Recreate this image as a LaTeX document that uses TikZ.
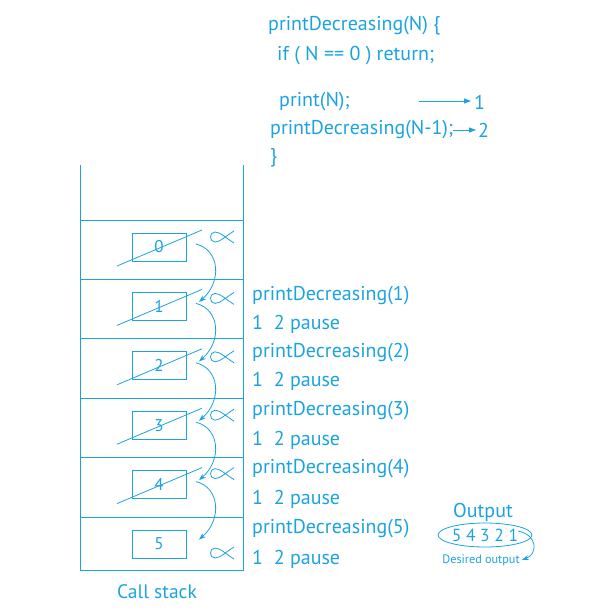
\documentclass[tikz,border=0pt]{standalone}
\usepackage{fontspec}
\setmainfont{PT Sans}
\usetikzlibrary{arrows.meta,shapes.geometric,calc,positioning}

\definecolor{callblue}{RGB}{27,163,224}

\tikzset{
  cyanline/.style={draw=callblue,line width=0.8pt},
  stackbox/.style={cyanline,minimum width=54pt,minimum height=28pt,inner sep=0pt,text=callblue,font=\fontsize{17}{17}\selectfont},
  lbl/.style={text=callblue,anchor=west,inner sep=0pt,font=\fontsize{20}{20}\selectfont},
  codeline/.style={text=callblue,anchor=west,inner sep=0pt,font=\fontsize{20}{20}\selectfont},
  curvearrow/.style={cyanline,-{Stealth[length=7pt,width=5pt]}},
  codearrow/.style={cyanline,-{Triangle[length=7pt,width=5pt]}},
  fish/.pic={\draw[cyanline] (12,-6) .. controls (4,-1) and (-2,5) .. (-7,5)
      .. controls (-13,5) and (-13,-5) .. (-7,-5) .. controls (-2,-5) and (4,1) .. (12,6);}
}

\begin{document}
\begin{tikzpicture}[x=1pt,y=-1pt]
\useasboundingbox (0,0) rectangle (596,613);

% Code of the function
\node[codeline] (code1) at (268,26) {printDecreasing(N) \{};
\node[codeline] (code2) at (277,56) {if ( N == 0 ) return;};
\node[codeline] (code3) at (279,102) {print(N);};
\node[codeline] (code4) at (270,130) {printDecreasing(N-1);};
\node[codeline] (code5) at (270,158) {\}};
\node[codeline] (one) at (474,102) {1};
\node[codeline] (two) at (478,130) {2};
\coordinate (p1) at (419,101);
\draw[codearrow] (p1) -- ($(one.west)+(-3,-1)$);
\draw[codearrow] (code4.east) -- ($(two.west)+(-2,0)$);

% Call stack walls and frames
\draw[cyanline] (80,165) -- (80,570) -- (243,570) -- (243,165);
\foreach \i in {0,...,5} {
  \pgfmathsetmacro{\t}{220+59.4*\i}
  \draw[cyanline] (80,\t) -- (243,\t);
  \node[stackbox] (b\i) at (159,\t+27) {\i};
}

% Crossed out frames
\foreach \i in {0,...,4} {
  \pgfmathsetmacro{\t}{220+59.4*\i}
  \draw[cyanline] (117,\t+46) -- (202,\t+10);
}

% Fish marks
\foreach \i/\dy in {0/17,1/19,2/18,3/17,4/16,5/36} {
  \pgfmathsetmacro{\t}{220+59.4*\i}
  \pic at (222,\t+\dy) {fish};
}

% Returns from one frame to the next
\foreach \i in {0,...,4} {
  \pgfmathsetmacro{\t}{220+59.4*\i}
  \coordinate (s\i) at (196,\t+24);
  \coordinate (e\i) at (199,\t+82);
  \draw[curvearrow] (s\i) .. controls +(24,6) and +(23,-20) .. (e\i);
}

% Calls and their output
\foreach \i/\y/\p in {1/296/324,2/353/381,3/411/440,4/469/499,5/529/559} {
  \node[lbl] (call\i) at (252,\y) {printDecreasing(\i)};
  \node[lbl] (pause\i) at (252,\p) {1\ \ 2 pause};
}

\node[text=callblue,font=\fontsize{19.5}{19.5}\selectfont] (stack) at (157,592) {Call stack};

% Output
\node[text=callblue,font=\fontsize{20}{20}\selectfont] (outtitle) at (483,512) {Output};
\node[ellipse,cyanline,minimum width=90pt,minimum height=24pt,inner sep=0pt,text=callblue,font=\fontsize{17.5}{17.5}\selectfont] (outvals) at (485,535) {5 4 3 2 1};
\node[text=callblue,inner sep=0pt,font=\fontsize{12.2}{12.2}\selectfont] (desired) at (481,560) {Desired output};
\coordinate (o1) at (518,531);
\draw[curvearrow] (o1) .. controls +(20,4) and +(16,-6) .. ($(desired.east)+(2,0)$);
\end{tikzpicture}
\end{document}
